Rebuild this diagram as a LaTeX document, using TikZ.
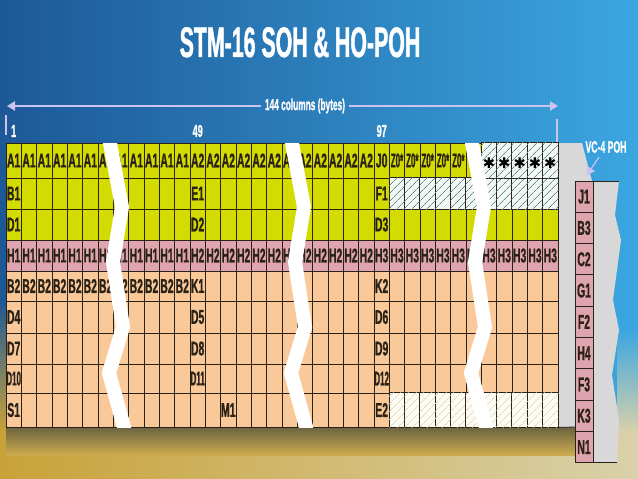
\documentclass[tikz,border=0pt]{standalone}
\usepackage{fontspec}
\setmainfont{Liberation Sans}
\newfontfamily\condfont[FakeStretch=0.52,FakeBold=0.8]{Liberation Sans}
\newfontfamily\narrowfont[FakeStretch=0.4,FakeBold=0.8]{Liberation Sans}
\newfontfamily\titlefont[FakeStretch=0.5,FakeBold=1]{Liberation Sans}
\newfontfamily\symfont{DejaVu Sans}
\usetikzlibrary{arrows.meta,patterns.meta,positioning}

\definecolor{soh}{HTML}{D3DB00}
\definecolor{ptr}{HTML}{DEA4AF}
\definecolor{pay}{HTML}{F9C999}
\definecolor{lav}{HTML}{CBC4F0}
\definecolor{panel}{HTML}{D8D8D8}
\definecolor{ink}{HTML}{2A2216}
\definecolor{hatchc}{HTML}{5E8E86}
\definecolor{creamc}{HTML}{E3DAA8}
\definecolor{bgdark}{HTML}{1D5897}
\definecolor{bglight}{HTML}{3BA6E0}
\definecolor{goldc}{HTML}{C9A238}
\definecolor{sandc}{HTML}{D9D1AA}
\definecolor{shadowc}{HTML}{6B6340}

\tikzset{
 cell/.style={draw=ink, line width=0.6pt, minimum width=11.5pt, inner sep=0pt},
 lbl/.style={inner sep=0pt, text=ink,
   font=\condfont\bfseries\fontsize{15}{15}\selectfont},
 narrow lbl/.style={lbl, font=\narrowfont\bfseries\fontsize{15}{15}\selectfont},
 hdr/.style={inner sep=0pt, text=white,
   font=\condfont\bfseries\fontsize{13}{13}\selectfont},
 tealhatch/.style={draw=ink, line width=0.6pt, fill=white!92!hatchc,
   postaction={pattern={Lines[angle=45,distance=4pt,line width=0.6pt]},
   pattern color=hatchc}},
 creamhatch/.style={draw=ink, line width=0.6pt, fill=white!88!creamc,
   postaction={pattern={Lines[angle=45,distance=4pt,line width=0.6pt]},
   pattern color=creamc}},
 pohcell/.style={cell, fill=ptr, minimum width=13.5pt, minimum height=23.5pt,
   text=ink, font=\condfont\bfseries\fontsize{15}{15}\selectfont},
 brk/.style={white, line width=10.5pt, line join=miter},
 lavarrow/.style={lav, line width=1.1pt, -{Triangle[length=6pt,width=7pt]}},
}

\begin{document}
\begin{tikzpicture}[x=0.75pt,y=-0.75pt]
\useasboundingbox (0,0) rectangle (638,478);
% background
\shade[left color=bgdark, right color=bglight] (0,0) rectangle (638,478);
\shade[left color=goldc, right color=sandc] (0,432) rectangle (638,478);
\shade[top color=bglight, bottom color=sandc] (617,330) rectangle (638,432);
\shade[top color=bgdark, bottom color=goldc] (0,300) rectangle (6,432);
\shade[top color=shadowc, bottom color=goldc!80!sandc] (6,427) rectangle (575,455);

% title
\node[text=white, anchor=base, inner sep=0pt,
  font=\titlefont\bfseries\fontsize{32}{32}\selectfont] (title) at (300,57)
  {STM-16 SOH \& HO-POH};

% grey panel behind the POH column
\fill[panel] (558,143) -- (582,143) -- (592,181) -- (619,181) -- (615,215)
  -- (621,240) -- (613,300) -- (619,330) -- (612,375) -- (619,420)
  -- (617,462) -- (575,462) -- (575,427) -- (558,427) -- cycle;

% frame cells
\foreach \r/\f/\y/\h in {1/soh/160.5/35, 2/soh/193.5/31, 3/soh/224.5/31,
    4/ptr/255.5/31, 5/pay/286/30, 6/pay/317/32, 7/pay/348.5/31,
    8/pay/378.5/29, 9/pay/410/34}
  \foreach \c in {1,...,36}
    \node[cell, fill=\f, minimum height=\h*0.75pt] (c\r-\c)
      at ({6+15.333*(\c-0.5)},\y) {};
\foreach \c in {26,...,36} {
  \path[tealhatch] (c2-\c.south west) rectangle (c2-\c.north east);
  \path[creamhatch] (c9-\c.south west) rectangle (c9-\c.north east);
}
\foreach \c in {32,...,36}
  \path[tealhatch] (c1-\c.south west) rectangle (c1-\c.north east);
\draw[ink, line width=0.6pt] (c9-36.south east) -- (575,427);
\draw[ink, line width=0.6pt] (575,181) -- (619,181);
\draw[ink, line width=0.6pt] (593,462) -- (617,462);

% byte labels
\foreach \c in {1,...,12} {
  \node[lbl] (t1-\c) at (c1-\c) {A1};
  \node[lbl] (t4-\c) at (c4-\c) {H1};
  \node[lbl] (t5-\c) at (c5-\c) {B2};
}
\foreach \c in {13,...,24} {
  \node[lbl] (t1-\c) at (c1-\c) {A2};
  \node[lbl] (t4-\c) at (c4-\c) {H2};
}
\foreach \c in {25,...,36}
  \node[lbl] (t4-\c) at (c4-\c) {H3};
\node[lbl] (t1-25) at (c1-25) {J0};
\foreach \c in {26,...,30}
  \node[narrow lbl] (t1-\c) at (c1-\c) {Z0*};
\foreach \c in {32,...,36}
  \node[inner sep=0pt, font=\symfont\fontsize{11}{11}\selectfont] (t1-\c) at ([yshift=-2pt]c1-\c) {✱};
\foreach \r/\a/\b/\d in {2/B1/E1/F1, 3/D1/D2/D3, 6/D4/D5/D6, 7/D7/D8/D9} {
  \node[lbl] (t\r-1) at (c\r-1) {\a};
  \node[lbl] (t\r-13) at (c\r-13) {\b};
  \node[lbl] (t\r-25) at (c\r-25) {\d};
}
\node[narrow lbl] (t8-1) at (c8-1) {D10};
\node[narrow lbl] (t8-13) at (c8-13) {D11};
\node[narrow lbl] (t8-25) at (c8-25) {D12};
\node[lbl] (t5-13) at (c5-13) {K1};
\node[lbl] (t5-25) at (c5-25) {K2};
\node[lbl] (t9-1) at (c9-1) {S1};
\node[lbl] (t9-15) at (c9-15) {M1};
\node[lbl] (t9-25) at (c9-25) {E2};

% breaks in the frame
\begin{scope}
  \clip (6,143) rectangle (558,427);
  \foreach \x in {110,292,472}
    \draw[brk, shift={(\x,0)}] (-2,130) -- (0,143) -- (12,207) -- (3,262)
      -- (13,327) -- (-1,373) -- (14,427) -- (15,440);
\end{scope}

% column header
\node[hdr] (n1) at (c1-1 |- 0,131) {1};
\node[hdr] (n49) at (c1-13 |- 0,131) {49};
\node[hdr] (n97) at (c1-25 |- 0,131) {97};
\node[hdr, font=\condfont\bfseries\fontsize{12}{12}\selectfont, inner sep=3pt]
  (cols) at (305,106) {144 columns (bytes)};
\coordinate (lft) at (7,106);
\coordinate (rgt) at (558,106);
\draw[lavarrow] (cols.west) -- (lft);
\draw[lavarrow] (cols.east) -- (rgt);
\draw[lav, line width=0.8pt] (6,115) -- (6,135);
\draw[lav, line width=0.8pt] (557,119) -- (557,142);

% VC-4 POH column
\foreach \t [count=\i] in {J1,B3,C2,G1,F2,H4,F3,K3,N1}
  \node[pohcell] (p\i) at (584,{181+31.3*(\i-0.5)}) {\t};
\node[hdr, font=\condfont\bfseries\fontsize{12.5}{12.5}\selectfont] (poh) at (606,147) {VC-4 POH};
\coordinate (pohtail) at (599,157);
\draw[lavarrow, line width=0.9pt] (pohtail) -- ([xshift=2pt,yshift=4pt]p1.north);
\end{tikzpicture}
\end{document}
